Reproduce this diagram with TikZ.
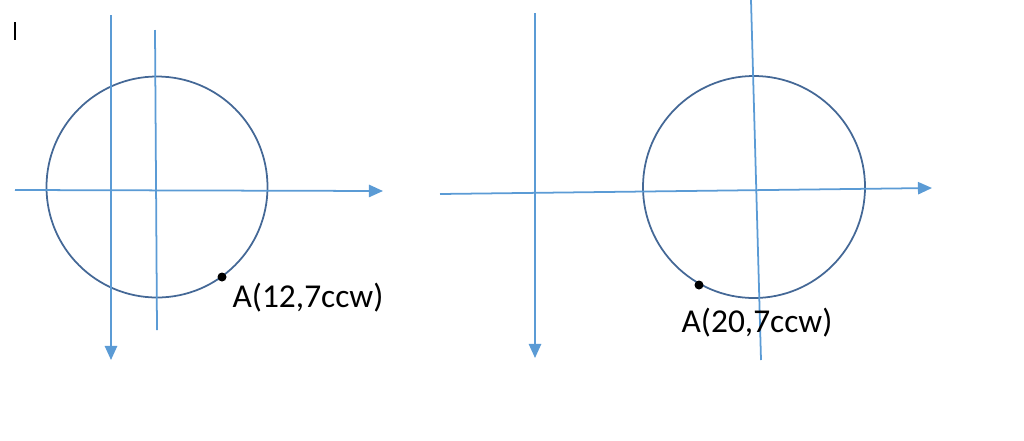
\documentclass[tikz,border=0pt]{standalone}
\usepackage{fontspec}
\setmainfont{Carlito}
\usetikzlibrary{arrows.meta}
\definecolor{circ}{RGB}{68,104,150}
\definecolor{ax}{RGB}{91,155,213}
\begin{document}
\begin{tikzpicture}[x=0.02cm,y=-0.02cm,
  axis/.style={draw=ax,line width=1pt},
  arr/.style={axis,-{Triangle[length=8pt,width=7pt]}},
  circl/.style={draw=circ,line width=1pt},
  lbl/.style={font=\fontsize{19}{22}\selectfont,inner sep=0pt}]
\useasboundingbox (0,0) rectangle (1024,440);
\draw[line width=0.8pt] (15,22) -- (15,40);
% left
\node[circl,circle,minimum size=221*0.02cm,inner sep=0pt] (c1) at (157,187) {};
\coordinate (h1s) at (15,190); \coordinate (h1e) at (383,191);
\draw[arr] (h1s) -- (h1e);
\coordinate (v1s) at (111,15); \coordinate (v1e) at (111,360);
\draw[arr] (v1s) -- (v1e);
\coordinate (w1s) at (155,30); \coordinate (w1e) at (157,330);
\draw[axis] (w1s) -- (w1e);
\fill (222,277) circle (4.5*0.02cm);
\node[lbl] (a1) at (308,298) {A(12,7ccw)};
% right
\node[circl,circle,minimum size=222*0.02cm,inner sep=0pt] (c2) at (754,187) {};
\coordinate (h2s) at (440,194); \coordinate (h2e) at (932,188);
\draw[arr] (h2s) -- (h2e);
\coordinate (v2s) at (535,13); \coordinate (v2e) at (535,358);
\draw[arr] (v2s) -- (v2e);
\coordinate (w2s) at (751,0); \coordinate (w2e) at (761,360);
\draw[axis] (w2s) -- (w2e);
\fill (699,285) circle (4.5*0.02cm);
\node[lbl] (a2) at (757,323) {A(20,7ccw)};
\end{tikzpicture}
\end{document}
